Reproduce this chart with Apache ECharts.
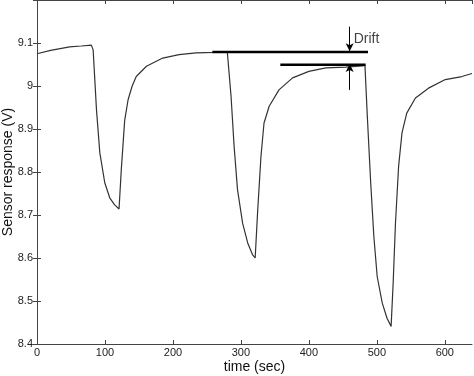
<!DOCTYPE html>
<html>
<head>
<meta charset="UTF-8">
<title>Sensor response</title>
<script src="https://cdn.jsdelivr.net/npm/echarts@6/dist/echarts.min.js"></script>
<style>
  html, body { margin: 0; padding: 0; background: #fff; }
  #chart { width: 474px; height: 376px; }
</style>
</head>
<body>
<div id="chart"></div>
<script>
// sensor trace (time in s, response in V)
const timeSec = [0, 20, 48, 65, 80, 82.6, 87.5, 92.4, 99.7, 107, 114, 120.7,
  124, 129, 134, 140, 146, 161, 185, 209, 234, 260, 280,
  285.5, 290, 295, 302.5, 310, 317, 321,
  324.5, 329.5, 334, 341.6, 356, 376, 400, 425, 454, 478.5, 482.5,
  486, 491, 495.6, 500.5, 508, 515, 521,
  524, 527.4, 532, 537, 544, 556.8, 576, 600.7, 625, 640];
const responseV = [9.075, 9.083, 9.091, 9.093, 9.095, 9.084, 8.945, 8.845, 8.775, 8.74, 8.724, 8.714,
  8.805, 8.92, 8.968, 9.0, 9.022, 9.046, 9.065, 9.073, 9.077, 9.078, 9.079,
  8.976, 8.86, 8.759, 8.681, 8.635, 8.608, 8.600,
  8.705, 8.836, 8.914, 8.953, 8.991, 9.019, 9.034, 9.042, 9.044, 9.047, 9.048,
  8.929, 8.774, 8.65, 8.557, 8.495, 8.46, 8.441,
  8.542, 8.681, 8.813, 8.891, 8.937, 8.972, 8.995, 9.015, 9.022, 9.029];

// drift annotation
const baseline1 = [[258, 9.079], [487, 9.079]];
const baseline2 = [[358, 9.0495], [483.5, 9.0495]];
const arrowDown = [[460, 9.138], [460, 9.081]];
const arrowUp = [[460, 8.991], [460, 9.051]];
const driftLabel = [[466, 9.11]];

const xTicks = { min: 0, max: 640, step: 100 };
const yTicks = { min: 8.4, max: 9.2, step: 0.1 };

const chart = echarts.init(document.getElementById('chart'));
const axisColor = '#444';
const font = 'Liberation Sans, Arial, sans-serif';

const arrow = pts => [{ coord: pts[0] }, { coord: pts[1] }];

chart.setOption({
  animation: false,
  grid: { left: 37, right: 2, top: 0, bottom: 32, containLabel: false, outerBoundsMode: 'none' },
  xAxis: [{
    type: 'value', min: xTicks.min, max: xTicks.max, interval: xTicks.step,
    name: 'time (sec)', nameLocation: 'middle', nameGap: 16, nameMoveOverlap: false,
    nameTextStyle: { fontSize: 14, color: '#111', fontFamily: font },
    axisLine: { lineStyle: { color: axisColor, width: 1 } },
    axisTick: { inside: true, length: 4, lineStyle: { color: axisColor } },
    axisLabel: { fontSize: 11, color: '#222', fontFamily: font, margin: 3, showMaxLabel: false },
    splitLine: { show: false }
  }, {
    type: 'value', position: 'top', min: xTicks.min, max: xTicks.max, interval: xTicks.step,
    axisLine: { lineStyle: { color: axisColor, width: 1 } },
    axisTick: { inside: true, length: 4, lineStyle: { color: axisColor } },
    axisLabel: { show: false },
    splitLine: { show: false }
  }],
  yAxis: [{
    type: 'value', min: yTicks.min, max: yTicks.max, interval: yTicks.step,
    name: 'Sensor response (V)', nameLocation: 'middle', nameGap: 22, nameMoveOverlap: false,
    nameTextStyle: { fontSize: 14, color: '#111', fontFamily: font },
    axisLine: { show: true, lineStyle: { color: axisColor, width: 1 } },
    axisTick: { show: true, inside: true, length: 4, lineStyle: { color: axisColor } },
    axisLabel: {
      fontSize: 11, color: '#222', fontFamily: font, margin: 4, showMaxLabel: false,
      formatter: v => String(Math.round(v * 10) / 10)
    },
    splitLine: { show: false }
  }, {
    type: 'value', position: 'right', min: yTicks.min, max: yTicks.max, interval: yTicks.step,
    axisLine: { show: true, lineStyle: { color: axisColor, width: 1 } },
    axisTick: { show: true, inside: true, length: 4, lineStyle: { color: axisColor } },
    axisLabel: { show: false },
    splitLine: { show: false }
  }],
  series: [
    {
      type: 'line', showSymbol: false, smooth: false,
      data: timeSec.map((t, i) => [t, responseV[i]]),
      lineStyle: { color: '#333', width: 1.2 },
      markLine: {
        silent: true, symbol: ['none', 'arrow'], symbolSize: [6, 8],
        label: { show: false },
        lineStyle: { color: '#000', width: 1, type: 'solid' },
        data: [arrow(arrowDown), arrow(arrowUp)]
      }
    },
    {
      type: 'line', showSymbol: false, data: baseline1,
      lineStyle: { color: '#000', width: 2.5 }
    },
    {
      type: 'line', showSymbol: false, data: baseline2,
      lineStyle: { color: '#000', width: 2.5 }
    },
    {
      type: 'scatter', data: driftLabel, symbolSize: 0,
      label: {
        show: true, position: 'right', distance: 0, formatter: 'Drift',
        fontSize: 14, color: '#111', fontFamily: font
      }
    }
  ]
});
</script>
</body>
</html>
